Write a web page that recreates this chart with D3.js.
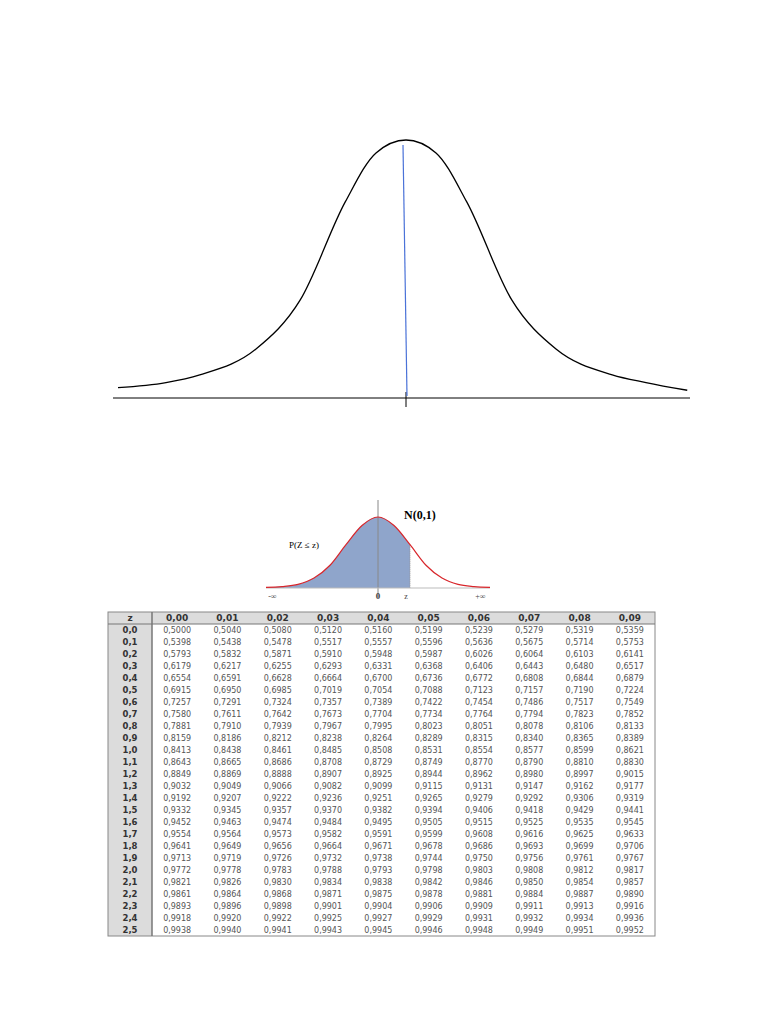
<!DOCTYPE html>
<html><head><meta charset="utf-8">
<script src="https://cdn.jsdelivr.net/npm/d3@7"></script>
<style>body{margin:0;background:#fff}</style>
</head><body>
<script>
// big bell curve (z, relative height)
const bigCurve = [[-3.84,0.04],[-3.2,0.06],[-2.75,0.09],[-2.0,0.19],[-1.41,0.38],[-0.81,0.76],[-0.4,0.95],[0,1],
  [0.4,0.95],[0.81,0.76],[1.41,0.38],[2.0,0.19],[2.75,0.09],[3.2,0.06],[3.75,0.03]];
// small chart curve
const smallCurve = [[-3.5,0.01],[-3,0.02],[-2.5,0.05],[-2,0.14],[-1.5,0.32],[-1,0.61],[-0.5,0.88],[0,1],
  [0.5,0.88],[1,0.61],[1.5,0.32],[2,0.14],[2.5,0.05],[3,0.02],[3.5,0.01]];
const zCut = 1;

const colHeads = ["0,00","0,01","0,02","0,03","0,04","0,05","0,06","0,07","0,08","0,09"];
const rowHeads = ["0,0","0,1","0,2","0,3","0,4","0,5","0,6","0,7","0,8","0,9","1,0","1,1","1,2","1,3","1,4","1,5","1,6","1,7","1,8","1,9","2,0","2,1","2,2","2,3","2,4","2,5"];
const probs = [
"5000 5040 5080 5120 5160 5199 5239 5279 5319 5359",
"5398 5438 5478 5517 5557 5596 5636 5675 5714 5753",
"5793 5832 5871 5910 5948 5987 6026 6064 6103 6141",
"6179 6217 6255 6293 6331 6368 6406 6443 6480 6517",
"6554 6591 6628 6664 6700 6736 6772 6808 6844 6879",
"6915 6950 6985 7019 7054 7088 7123 7157 7190 7224",
"7257 7291 7324 7357 7389 7422 7454 7486 7517 7549",
"7580 7611 7642 7673 7704 7734 7764 7794 7823 7852",
"7881 7910 7939 7967 7995 8023 8051 8078 8106 8133",
"8159 8186 8212 8238 8264 8289 8315 8340 8365 8389",
"8413 8438 8461 8485 8508 8531 8554 8577 8599 8621",
"8643 8665 8686 8708 8729 8749 8770 8790 8810 8830",
"8849 8869 8888 8907 8925 8944 8962 8980 8997 9015",
"9032 9049 9066 9082 9099 9115 9131 9147 9162 9177",
"9192 9207 9222 9236 9251 9265 9279 9292 9306 9319",
"9332 9345 9357 9370 9382 9394 9406 9418 9429 9441",
"9452 9463 9474 9484 9495 9505 9515 9525 9535 9545",
"9554 9564 9573 9582 9591 9599 9608 9616 9625 9633",
"9641 9649 9656 9664 9671 9678 9686 9693 9699 9706",
"9713 9719 9726 9732 9738 9744 9750 9756 9761 9767",
"9772 9778 9783 9788 9793 9798 9803 9808 9812 9817",
"9821 9826 9830 9834 9838 9842 9846 9850 9854 9857",
"9861 9864 9868 9871 9875 9878 9881 9884 9887 9890",
"9893 9896 9898 9901 9904 9906 9909 9911 9913 9916",
"9918 9920 9922 9925 9927 9929 9931 9932 9934 9936",
"9938 9940 9941 9943 9945 9946 9948 9949 9951 9952"];

const svg = d3.select("body").append("svg").attr("width", 768).attr("height", 1024);

// big curve
const bx = d3.scaleLinear().domain([-4, 4]).range([106, 706]);
const by = d3.scaleLinear().domain([0, 1]).range([398, 140]);
svg.append("line").attr("x1", 113).attr("x2", 690).attr("y1", 398).attr("y2", 398).attr("stroke", "#000");
svg.append("line").attr("x1", bx(0)).attr("x2", bx(0)).attr("y1", 392).attr("y2", 407).attr("stroke", "#000");
svg.append("line").attr("x1", bx(0) - 3).attr("x2", bx(0) + 1).attr("y1", 145).attr("y2", 396)
  .attr("stroke", "#4a72d8").attr("stroke-width", 1.2);
svg.append("path").datum(bigCurve)
  .attr("d", d3.line().x(d => bx(d[0])).y(d => by(d[1])).curve(d3.curveMonotoneX))
  .attr("fill", "none").attr("stroke", "#000").attr("stroke-width", 1.3);

// small chart
const sx = d3.scaleLinear().domain([-3.5, 3.5]).range([266, 490]);
const sy = d3.scaleLinear().domain([0, 1]).range([588, 517]);
const line = d3.line().x(d => sx(d[0])).y(d => sy(d[1])).curve(d3.curveMonotoneX);
const area = d3.area().x(d => sx(d[0])).y0(588).y1(d => sy(d[1])).curve(d3.curveMonotoneX);
svg.append("path").datum(smallCurve.filter(d => d[0] <= zCut)).attr("d", area).attr("fill", "#8fa5cb");
svg.append("line").attr("x1", sx(0)).attr("x2", sx(0)).attr("y1", 500).attr("y2", 598).attr("stroke", "#888");
svg.append("line").attr("x1", sx(zCut)).attr("x2", sx(zCut)).attr("y1", sy(0.61)).attr("y2", 588)
  .attr("stroke", "#999").attr("stroke-dasharray", "1,1");
svg.append("line").attr("x1", 266).attr("x2", 490).attr("y1", 588).attr("y2", 588).attr("stroke", "#bbb");
svg.append("path").datum(smallCurve).attr("d", line).attr("fill", "none").attr("stroke", "#d8262b").attr("stroke-width", 1.2);
const serif = "Liberation Serif, serif";
[["-∞", sx(-3.3)], ["0", sx(0)], ["z", sx(zCut) - 4], ["+∞", sx(3.2)]].forEach(([t, x]) => {
  svg.append("text").attr("x", x).attr("y", 599).attr("text-anchor", "middle")
    .attr("font-family", serif).attr("font-size", t === "0" ? 9 : 8).attr("font-weight", t === "0" ? "bold" : "normal")
    .attr("fill", "#444").text(t);
});
svg.append("text").attr("x", 404).attr("y", 519).attr("font-family", serif).attr("font-weight", "bold")
  .attr("font-size", 12).text("N(0,1)");
svg.append("text").attr("x", 289).attr("y", 548).attr("font-family", serif)
  .attr("font-size", 9).text("P(Z ≤ z)");

// table
const tx0 = 108, tx1 = 655, zw = 44, ty0 = 612, rh = 12;
const colX = d3.scaleBand().domain(colHeads).range([tx0 + zw, tx1]);
const rowY = d3.scaleBand().domain(rowHeads).range([ty0 + rh, ty0 + rh * 27]);
const g = svg.append("g").attr("font-family", "DejaVu Sans, sans-serif");
g.append("rect").attr("x", tx0).attr("y", ty0).attr("width", tx1 - tx0).attr("height", rh).attr("fill", "#dcdcdc");
g.append("rect").attr("x", tx0).attr("y", ty0).attr("width", zw).attr("height", rh * 27).attr("fill", "#dcdcdc");
g.append("rect").attr("x", tx0).attr("y", ty0).attr("width", tx1 - tx0).attr("height", rh * 27)
  .attr("fill", "none").attr("stroke", "#888");
g.append("line").attr("x1", tx0 + zw).attr("x2", tx0 + zw).attr("y1", ty0).attr("y2", ty0 + rh * 27).attr("stroke", "#777").attr("stroke-width", 1.5);
g.append("line").attr("x1", tx0).attr("x2", tx1).attr("y1", ty0 + rh).attr("y2", ty0 + rh).attr("stroke", "#777");
g.append("text").attr("x", tx0 + zw / 2).attr("y", ty0 + 9).attr("text-anchor", "middle")
  .attr("font-size", 9).attr("font-weight", "bold").attr("fill", "#333").text("z");
colHeads.forEach(c => g.append("text").attr("x", colX(c) + colX.bandwidth() / 2).attr("y", ty0 + 9)
  .attr("text-anchor", "middle").attr("font-size", 9).attr("font-weight", "bold").attr("fill", "#333").text(c));
rowHeads.forEach((r, i) => {
  g.append("text").attr("x", tx0 + zw / 2).attr("y", rowY(r) + 9).attr("text-anchor", "middle")
    .attr("font-size", 8.5).attr("font-weight", "bold").attr("fill", "#333").text(r);
  probs[i].split(" ").forEach((v, j) => {
    g.append("text").attr("x", colX(colHeads[j]) + colX.bandwidth() / 2).attr("y", rowY(r) + 9)
      .attr("text-anchor", "middle").attr("font-size", 8).attr("fill", "#555").text("0," + v);
  });
});
</script>
</body></html>
